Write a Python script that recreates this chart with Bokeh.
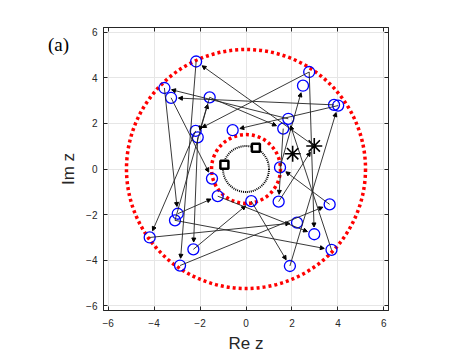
import numpy as np
from bokeh.plotting import figure
from bokeh.models import Arrow, NormalHead, ColumnDataSource, LinearAxis, Label, FixedTicker
from bokeh.embed import file_html
from bokeh.resources import INLINE

# ---- data ----
circle_re = [-2.17, -3.55, -3.26, -1.58, -0.58, -2.19, -2.10, -1.48, -1.23, 0.23,
             -2.97, -3.09, -4.19, -2.29, -2.87, 1.91, 3.72, 2.97, 2.22, 3.64,
             1.42, 1.48, 1.62, 1.84, 2.48, 2.75, 3.83, 4.01]
circle_im = [4.71, 3.55, 3.12, 3.14, 1.70, 1.67, 1.39, -0.42, -1.19, -1.41,
             -1.96, -2.25, -3.00, -3.52, -4.23, -4.25, -3.54, -2.86, -2.35, -1.55,
             -1.43, 0.07, 1.77, 2.20, 3.65, 4.25, 2.81, 2.78]
star_re = [2.03, 2.97]
star_im = [0.67, 1.01]
square_re = [-0.94, 0.43]
square_im = [0.19, 0.93]
red_ring_radius = [5.2, 1.5]
black_ring_radius = [1.0]

# arrows: node indices (0..27 circles, 28..29 stars)
edge_from = [26, 23, 29, 0, 1, 2, 6, 25, 25, 21, 15, 20, 9, 5, 12, 14, 11, 10, 13, 19, 16, 27, 3, 11, 8, 22, 3]
edge_to   = [2, 1, 0, 14, 10, 7, 13, 17, 5, 24, 27, 29, 15, 12, 18, 19, 16, 8, 9, 21, 23, 4, 22, 3, 17, 20, 6]

ticks = [-6, -4, -2, 0, 2, 4, 6]
tick_color = "#262626"

node_re = np.array(circle_re + star_re)
node_im = np.array(circle_im + star_im)
x0 = node_re[edge_from]; y0 = node_im[edge_from]
x1 = node_re[edge_to]; y1 = node_im[edge_to]
d = np.hypot(x1 - x0, y1 - y0)
gap = 0.32
x1s = x1 - (x1 - x0) / d * gap
y1s = y1 - (y1 - y0) / d * gap

p = figure(width=474, height=355, x_range=(-6.2, 6.2), y_range=(-6.2, 6.2),
           output_backend="svg", toolbar_location=None,
           min_border_left=103, min_border_right=86, min_border_top=27, min_border_bottom=45)
p.outline_line_color = tick_color
p.background_fill_color = "white"

for ax in [p.xaxis[0], p.yaxis[0]]:
    ax.ticker = FixedTicker(ticks=ticks)
    ax.major_tick_in = 4
    ax.major_tick_out = 0
    ax.minor_tick_line_color = None
    ax.axis_line_color = tick_color
    ax.major_tick_line_color = tick_color
    ax.major_label_text_color = tick_color
    ax.major_label_text_font = "Liberation Sans"
    ax.major_label_text_font_size = "10px"
    ax.axis_label_text_font = "Liberation Sans"
    ax.axis_label_text_font_size = "17px"
    ax.axis_label_text_font_style = "normal"
    ax.axis_label_text_color = "#262626"
p.xaxis.axis_label = "Re z"
p.yaxis.axis_label = "Im z"
p.xaxis.major_label_standoff = 8
p.xaxis.axis_label_standoff = 4
p.yaxis.major_label_standoff = 6
p.yaxis.axis_label_standoff = 5

for loc in ["above", "right"]:
    a = LinearAxis(ticker=FixedTicker(ticks=ticks), major_tick_in=4, major_tick_out=0,
                   minor_tick_line_color=None,
                   major_label_overrides={t: "" for t in ticks},
                   axis_line_color=tick_color, major_tick_line_color=tick_color,
                   major_label_standoff=0)
    p.add_layout(a, loc)

p.grid.ticker = FixedTicker(ticks=ticks)
p.grid.grid_line_color = "#e6e6e6"
p.grid.grid_line_width = 1

# rings
p.circle(x=[0] * len(red_ring_radius), y=[0] * len(red_ring_radius), radius=red_ring_radius,
         fill_color=None, line_color="#ff0000", line_width=3.5, line_dash="3 3")
p.circle(x=[0], y=[0], radius=black_ring_radius, fill_color=None, line_color="black",
         line_width=2, line_dash="1 1")

# arrows
src = ColumnDataSource(dict(x0=x0, y0=y0, x1=x1s, y1=y1s))
p.add_layout(Arrow(end=NormalHead(size=4, fill_color="black", line_color="black", line_width=1),
                   x_start="x0", y_start="y0", x_end="x1", y_end="y1", source=src,
                   line_color="#222222", line_width=0.9))

# points
p.scatter(circle_re, circle_im, marker="circle", size=11, fill_color=None,
          line_color="#0000ff", line_width=1.3)
p.scatter(star_re, star_im, marker="asterisk", size=16, line_color="black", line_width=1.6)
p.scatter(square_re, square_im, marker="square", size=8, fill_color="white",
          line_color="black", line_width=2.5)

# panel label, placed in the left side panel so it is not clipped to the frame
p.add_layout(Label(x=-8.62, y=5.47, text="(a)",
                   text_font="Liberation Serif", text_font_size="19px",
                   text_baseline="middle", text_color="black"), "left")

open("out.html", "w").write(file_html(p, INLINE))
